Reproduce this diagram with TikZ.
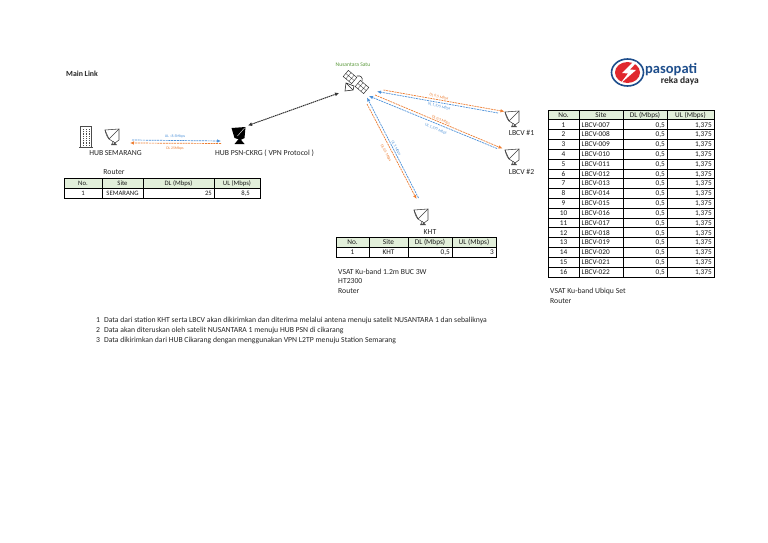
\documentclass[tikz,border=0pt]{standalone}
\usepackage{fontspec}
\setmainfont{Carlito}
\usetikzlibrary{arrows.meta}
\definecolor{hdr}{HTML}{E2EFDA}
\definecolor{tblue}{HTML}{4A90D9}
\definecolor{torange}{HTML}{ED7D31}
\definecolor{tgreen}{HTML}{5B9A3C}
\definecolor{lblue}{HTML}{1E4E8C}
\definecolor{lred}{HTML}{E0282E}
\tikzset{
 lab/.style={inner sep=0pt,font=\fontsize{7.7}{8}\selectfont,text=black!85},
 cell/.style={inner sep=0pt,text height=5.6pt,text depth=1pt,font=\fontsize{7.3}{8}\selectfont,text=black!90},
 cellsm/.style={cell,font=\fontsize{6.7}{7}\selectfont},
 small/.style={inner sep=0pt,font=\fontsize{3.8}{4}\selectfont},
 grid/.style={draw=black,line width=0.7pt},
 bluelink/.style={draw=tblue,dash pattern=on 2pt off 0.8pt,line width=0.7pt,-{Latex[length=4pt,width=3.5pt]}},
 orangelink/.style={draw=torange,dash pattern=on 2pt off 0.8pt,line width=0.7pt,-{Latex[length=4pt,width=3.5pt]}},
 blacklink/.style={draw=black!80,dash pattern=on 1.5pt off 0.6pt,line width=1pt,{Latex[length=4pt,width=4pt]}-{Latex[length=4pt,width=4pt]}},
 whitedish/.pic={
  \draw[black!75,line width=0.55pt,fill=white] (-7,-7) -- (7,-8) -- (7,3) -- (3,6) -- (-3,2) -- cycle;
  \draw[black!75,line width=0.55pt] (7,-8) -- (-3,2);
  \draw[black!75,line width=0.55pt] (-7,-7) .. controls (-6,-1) and (-3,2) .. (-3,2);
  \fill[black!70] (1,4) -- (5,8) -- (-1,8) -- cycle;
  \fill[white] (1.2,6) circle (0.8);
 },
 blackdish/.pic={
  \fill[black] (-7,-7) -- (7,-8) -- (6,3) -- (2,5) -- (-4,3) -- cycle;
  \draw[white,line width=0.4pt] (6,-7) -- (-1,1);
  \fill[black] (1,3) -- (6,9) -- (-4,9) -- cycle;
 }
}
\begin{document}
\begin{tikzpicture}[x=1pt,y=-1pt]
\useasboundingbox (0,0) rectangle (768,543);
\fill[white] (0,0) rectangle (768,543);

% main label
\node[lab,anchor=west,font=\fontsize{7.8}{8}\selectfont\bfseries] (mainlink) at (66,74) {Main Link};

% building
\node[draw=black!70,fill=white,line width=0.5pt,minimum width=11pt,minimum height=21pt,inner sep=0pt] (bldg) at (86,136.5) {};
\foreach \xx in {83,86,89}{\draw[black!70,line width=0.8pt,dash pattern=on 1pt off 0.8pt] (\xx,129) -- (\xx,146);}
\draw[black!70,line width=0.5pt] (79,147) -- (93,147);

% dishes
\coordinate (dsem) at (112,137);
\pic at (dsem) {whitedish};
\coordinate (dpsn) at (238.5,135);
\pic at (dpsn) {blackdish};
\coordinate (dl1) at (512,119);
\pic at (dl1) {whitedish};
\coordinate (dl2) at (512,157);
\pic at (dl2) {whitedish};
\coordinate (dkht) at (421,217);
\pic at (dkht) {whitedish};

% satellite
\begin{scope}[shift={(355,84)}]
 \coordinate (sat) at (0,0);
 \foreach \cx/\cy in {-5/-7,7/3}{
  \begin{scope}[shift={(\cx,\cy)},rotate=-40]
   \draw[black!80,fill=white,line width=0.5pt] (-5.5,-4) rectangle (5.5,4);
   \draw[black!80,line width=0.3pt] (-5.5,0) -- (5.5,0) (-2,-4) -- (-2,4) (2,-4) -- (2,4);
  \end{scope}}
 \draw[black!85,line width=0.6pt] (2,-8) .. controls (6,-9) and (8,-6) .. (7,-3);
 \draw[black!85,fill=white,line width=0.6pt] (-9,-1) -- (-1,2) -- (-2,6) -- (-10,7) -- cycle;
 \draw[black!85,line width=0.5pt] (-9,-1) -- (-2,6);
\end{scope}
\node[small,text=tgreen,font=\fontsize{5.6}{6}\selectfont] (satlabel) at (353,65) {Nusantara Satu};

% semarang link
\coordinate (sem1) at (132,140);
\coordinate (sem2) at (130,143);
\coordinate (psn1) at (221,141);
\coordinate (psn2) at (221,143.5);
\draw[bluelink] (sem1) -- (psn1);
\draw[orangelink] (psn2) -- (sem2);
\node[small,text=tblue] (ulsem) at (175,136) {UL : 8.5Mbps};
\node[small,text=torange] (dlsem) at (175,148) {DL 25Mbps};

% black link
\coordinate (psnup) at (248,125.5);
\coordinate (satdn) at (339,93);
\draw[blacklink] (psnup) -- (satdn);

% LBCV 1
\coordinate (s1a) at (383.5,90);
\coordinate (s1b) at (377,91.5);
\coordinate (l1a) at (504.5,111.5);
\coordinate (l1b) at (498,113);
\draw[orangelink] (s1a) -- (l1a);
\draw[bluelink] (l1b) -- (s1b);
\node[small,text=torange,rotate=-14] (dl1lab) at (439,97) {DL 0,5 Mbps};
\node[small,text=tblue,rotate=-14] (ul1lab) at (439,106.5) {UL 1,375 Mbps};

% LBCV 2
\coordinate (s2a) at (375,95);
\coordinate (s2b) at (369,96);
\coordinate (l2a) at (502.5,148.5);
\coordinate (l2b) at (497,148.5);
\draw[orangelink] (s2a) -- (l2a);
\draw[bluelink] (l2b) -- (s2b);
\node[small,text=torange,rotate=-23] (dl2lab) at (441,120) {DL 0,5 Mbps};
\node[small,text=tblue,rotate=-23] (ul2lab) at (436,129) {UL 1,375 Mbps};

% KHT
\coordinate (s3a) at (367,104);
\coordinate (s3b) at (367,97.5);
\coordinate (k3a) at (416.5,199);
\coordinate (k3b) at (418.5,198);
\draw[orangelink] (s3a) -- (k3a);
\draw[bluelink] (k3b) -- (s3b);
\node[small,text=tblue,rotate=-62] (ul3lab) at (396,148) {UL 3 Mbps};
\node[small,text=torange,rotate=-62] (dl3lab) at (386,153) {DL 0,5 Mbps};

% labels
\node[lab] (hubsem) at (115.5,153.5) {HUB SEMARANG};
\node[lab] (hubpsn) at (264.5,153.5) {HUB PSN-CKRG ( VPN Protocol )};
\node[lab] (router1) at (114,172.5) {Router};
\node[lab] (lbcv1) at (521.5,133) {LBCV \#1};
\node[lab] (lbcv2) at (521.5,172) {LBCV \#2};
\node[lab] (kht) at (430,232) {KHT};

% table semarang
\fill[hdr] (64,178) rectangle (260,188);
\draw[grid] (64,178) rectangle (260,198);
\draw[grid] (64,188) -- (260,188);
\foreach \xx in {102,143,214}{\draw[grid] (\xx,178) -- (\xx,198);}
\node[cellsm] (sh1) at (83,183) {No.};
\node[cellsm] (sh2) at (122.5,183) {Site};
\node[cellsm] (sh3) at (178.5,183) {DL (Mbps)};
\node[cellsm] (sh4) at (237,183) {UL (Mbps)};
\node[cellsm] (sr1) at (83,193) {1};
\node[cellsm] (sr2) at (122.5,193) {SEMARANG};
\node[cellsm,anchor=east] (sr3) at (212,193) {25};
\node[cellsm,anchor=east] (sr4) at (250,193) {8,5};

% table KHT
\fill[hdr] (336,237) rectangle (496,247);
\draw[grid] (336,237) rectangle (496,257);
\draw[grid] (336,247) -- (496,247);
\foreach \xx in {369,408,452}{\draw[grid] (\xx,237) -- (\xx,257);}
\node[cell] (kh1) at (352.5,242) {No.};
\node[cell] (kh2) at (388.5,242) {Site};
\node[cell] (kh3) at (430,242) {DL (Mbps)};
\node[cell] (kh4) at (474,242) {UL (Mbps)};
\node[cell] (kr1) at (352.5,252) {1};
\node[cell] (kr2) at (388.5,252) {KHT};
\node[cell,anchor=east] (kr3) at (450,252) {0,5};
\node[cell,anchor=east] (kr4) at (494,252) {3};

% KHT notes
\node[lab,anchor=west] (kn1) at (338,271.5) {VSAT Ku-band 1.2m BUC 3W};
\node[lab,anchor=west] (kn2) at (338,281) {HT2300};
\node[lab,anchor=west] (kn3) at (338,291) {Router};

% table LBCV
\fill[hdr] (548,110) rectangle (714,119.8);
\draw[grid] (548,110) rectangle (714,277);
\foreach \xx in {579,623,667}{\draw[grid] (\xx,110) -- (\xx,277);}
\foreach \r in {1,...,16}{\draw[grid] (548,{110+\r*9.82}) -- (714,{110+\r*9.82});}
\node[cell] (lh1) at (563.5,114.9) {No.};
\node[cell] (lh2) at (601,114.9) {Site};
\node[cell] (lh3) at (645,114.9) {DL (Mbps)};
\node[cell] (lh4) at (690.5,114.9) {UL (Mbps)};
\foreach \r/\s in {1/007,2/008,3/009,4/010,5/011,6/012,7/013,8/014,9/015,10/016,11/017,12/018,13/019,14/020,15/021,16/022}{
 \node[cell] (la\r) at (563.5,{114.9+\r*9.82}) {\r};
 \node[cell,anchor=west] (lb\r) at (581.5,{114.9+\r*9.82}) {LBCV-\s};
 \node[cell,anchor=east] (lc\r) at (665,{114.9+\r*9.82}) {0,5};
 \node[cell,anchor=east] (ld\r) at (712,{114.9+\r*9.82}) {1,375};
}
\node[lab,anchor=west] (ln1) at (550,291) {VSAT Ku-band Ubiqu Set};
\node[lab,anchor=west] (ln2) at (550,301) {Router};

% numbered notes
\node[lab,anchor=west] (n1) at (96,320) {1\hspace{4pt}Data dari station KHT serta LBCV akan dikirimkan dan diterima melalui antena menuju satelit NUSANTARA 1 dan sebaliknya};
\node[lab,anchor=west] (n2) at (96,330) {2\hspace{4pt}Data akan diteruskan oleh satelit NUSANTARA 1 menuju HUB PSN di cikarang};
\node[lab,anchor=west] (n3) at (96,340.5) {3\hspace{4pt}Data dikirimkan dari HUB Cikarang dengan menggunakan VPN L2TP menuju Station Semarang};

% logo
\coordinate (logoc) at (627.5,72.5);
\draw[lblue,line width=1.6pt,fill=white] (logoc) ellipse (16 and 13.5);
\fill[lred] (logoc) ellipse (12.5 and 10.5);
\fill[white] (633,62) -- (622,73) -- (628,73.5) -- (620,84) -- (636,70) -- (630,69.5) -- (637,62) -- cycle;
\node[inner sep=0pt,anchor=west,text=lblue,font=\fontsize{14.5}{16}\selectfont\bfseries] (pasopati) at (645,70) {pasopati};
\node[inner sep=0pt,anchor=east,text=black!85,font=\fontsize{9.5}{10}\selectfont\bfseries] (rekadaya) at (699,81) {reka daya};
\end{tikzpicture}
\end{document}
